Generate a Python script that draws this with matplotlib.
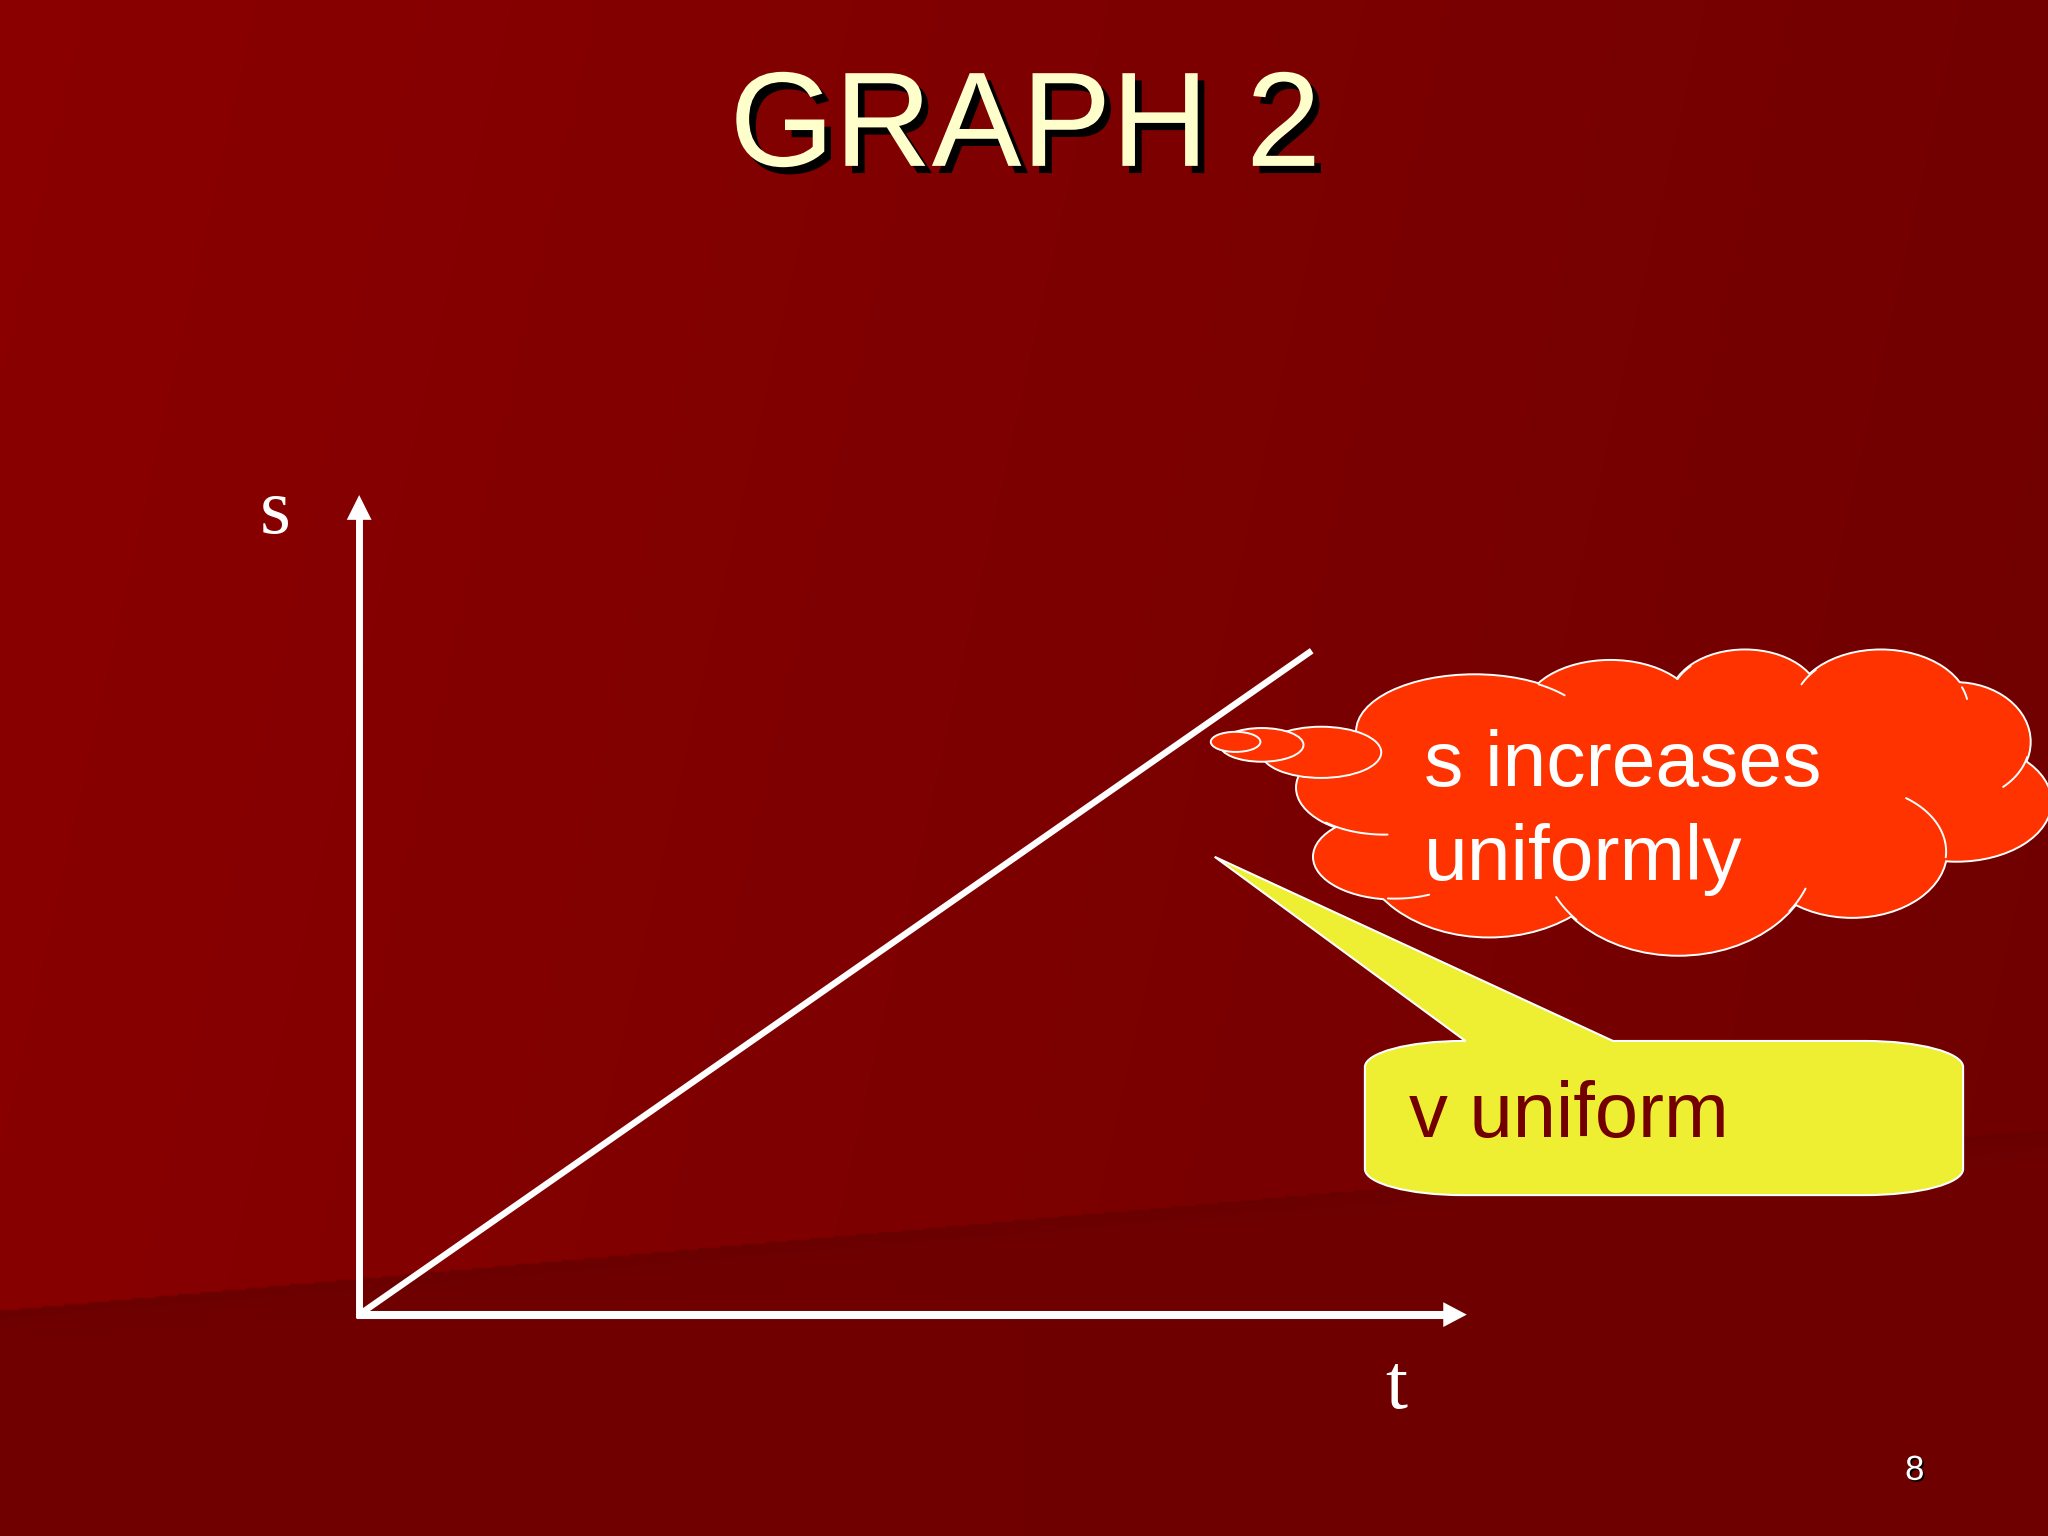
import numpy as np
import matplotlib
matplotlib.use("Agg")
import matplotlib.pyplot as plt
from matplotlib.patches import Ellipse, Polygon, PathPatch
from matplotlib.path import Path
import matplotlib.patheffects as pe

# ---------------- data ----------------
t_values = [0.0, 8.6]
s_values = [0.0, 8.1]
title = "GRAPH 2"
x_label = "t"
y_label = "s"
cloud_lines = ["s increases", "uniformly"]
callout_text = "v uniform"
slide_number = "8"

# ---------------- layout (slide units: 1568 x 1176) ----------------
W, H = 1568, 1176
fig = plt.figure(figsize=(20.48, 15.36), dpi=100)
ov = fig.add_axes([0, 0, 1, 1])
ov.set_xlim(0, W)
ov.set_ylim(H, 0)
ov.axis("off")

# background: brighter red upper area, darker lower wedge
nx, ny = 1024, 768
X, Y = np.meshgrid(np.linspace(0, W, nx), np.linspace(0, H, ny))
upper = 139 - 24 * (X / W) - 4 * (Y / H)
yb = 1004 - 0.0885 * X
d = Y - yb
lower = 113 - 2 * (X / W) - 7 * np.exp(-np.clip(d, 0, None) / 12.0)
red = np.where(d < 0, upper, lower)
rgb = np.zeros((ny, nx, 3))
rgb[..., 0] = red / 255.0
ov.imshow(rgb, extent=(0, W, H, 0), aspect="auto", interpolation="bilinear", zorder=0)

# ---------------- axes arrows ----------------
ov.plot([275, 275], [1009, 396], color="white", lw=5.0, solid_capstyle="butt", zorder=3)
ov.add_patch(Polygon([(265.5, 398), (284.5, 398), (275, 379)], closed=True,
                     facecolor="white", edgecolor="none", zorder=3))
ov.plot([273, 1107], [1006.5, 1006.5], color="white", lw=5.8, solid_capstyle="butt", zorder=3)
ov.add_patch(Polygon([(1105, 997), (1105, 1016), (1123, 1006.5)], closed=True,
                     facecolor="white", edgecolor="none", zorder=3))

# ---------------- data axes with the s-t line ----------------
ax = fig.add_axes([275 / W, 1 - 1006.5 / H, (1123 - 275) / W, (1006.5 - 379) / H])
ax.set_xlim(0, 10)
ax.set_ylim(0, 10)
ax.patch.set_alpha(0)
ax.axis("off")
ax.plot(t_values, s_values, color="white", lw=4.6, solid_capstyle="butt", clip_on=False)

# ---------------- texts ----------------
ov.text(785, 127, title, ha="center", va="baseline", fontsize=97,
        family="Liberation Sans", color="#FFFFCC", zorder=5,
        path_effects=[pe.withSimplePatchShadow(offset=(4.8, -5.2), shadow_rgbFace="black", alpha=1.0)])
ov.text(210.5, 408, y_label, ha="center", va="baseline", fontsize=57,
        family="Liberation Serif", color="white", zorder=5)
ov.text(1069, 1078, x_label, ha="center", va="baseline", fontsize=57,
        family="Liberation Serif", color="white", zorder=5)
ov.text(1466, 1133, slide_number, ha="center", va="baseline", fontsize=25,
        family="Liberation Sans", color="white", zorder=5,
        path_effects=[pe.withSimplePatchShadow(offset=(1.2, -1.2), shadow_rgbFace="black", alpha=1.0)])

# ---------------- cloud ----------------
cloud_color = "#FF3300"
bumps = [
    (1129, 560, 90, 43),   # 0 upper-left
    (1233, 546, 66, 40),   # 1 top
    (1336, 536, 57, 38),   # 2 top
    (1440, 543, 67, 45),   # 3 top-right
    (1497, 568, 57, 45),   # 4 right-upper
    (1498, 614, 72, 45),   # 5 right
    (1418, 652, 72, 50),   # 6 lower-right
    (1285, 650, 105, 81),  # 7 bottom
    (1140, 645, 100, 72),  # 8 bottom-left
    (1068, 656, 62, 32),   # 9 left-lower
    (1060, 603, 67, 36),   # 10 left-middle
]
for (cx, cy, rx, ry) in bumps:
    ov.add_patch(Ellipse((cx, cy), 2 * rx, 2 * ry, facecolor=cloud_color,
                         edgecolor="white", lw=2.8, zorder=6))
for (cx, cy, rx, ry) in bumps + [(1280, 615, 200, 85)]:
    ov.add_patch(Ellipse((cx, cy), 2 * rx, 2 * ry, facecolor=cloud_color,
                         edgecolor="none", lw=0, zorder=7))

# interior arcs (continuations of the bump outlines)
hints = [(0, 40, 57), (2, 137, 155), (3, 138, 155), (3, 10, 22), (4, -50, -15),
         (6, -5, 55), (7, -36, -22), (7, -153, -138), (9, -95, -65), (10, -132, -88)]
for idx, a0, a1 in hints:
    cx, cy, rx, ry = bumps[idx]
    th = np.radians(np.linspace(a0, a1, 30))
    ov.plot(cx + rx * np.cos(th), cy - ry * np.sin(th), color="white", lw=1.4,
            solid_capstyle="round", zorder=8)

# thought bubbles
for (cx, cy, rx, ry) in [(1011.5, 576, 46, 19.6), (966, 570.3, 32, 12.9), (946, 568, 19, 7.7)]:
    ov.add_patch(Ellipse((cx, cy), 2 * rx, 2 * ry, facecolor=cloud_color,
                         edgecolor="white", lw=1.4, zorder=8))

ov.text(1090.5, 601.8, cloud_lines[0], ha="left", va="baseline", fontsize=56.5,
        family="Liberation Sans", color="white", zorder=9)
ov.text(1090.5, 674, cloud_lines[1], ha="left", va="baseline", fontsize=56.5,
        family="Liberation Sans", color="white", zorder=9)

# ---------------- yellow callout ----------------
L, R, T, B = 1045, 1503, 797, 915
rx, ry = 75, 20
k = 0.552
verts = [
    (L + rx, T),
    (1122, T), (930, 656), (1235, T),
    (R - rx, T),
    (R - rx + k * rx, T), (R, T + ry - k * ry), (R, T + ry),
    (R, B - ry),
    (R, B - ry + k * ry), (R - rx + k * rx, B), (R - rx, B),
    (L + rx, B),
    (L + rx - k * rx, B), (L, B - ry + k * ry), (L, B - ry),
    (L, T + ry),
    (L, T + ry - k * ry), (L + rx - k * rx, T), (L + rx, T),
    (L + rx, T),
]
codes = ([Path.MOVETO] + [Path.LINETO] * 4 + [Path.CURVE4] * 3 + [Path.LINETO]
         + [Path.CURVE4] * 3 + [Path.LINETO] + [Path.CURVE4] * 3 + [Path.LINETO]
         + [Path.CURVE4] * 3 + [Path.CLOSEPOLY])
ov.add_patch(PathPatch(Path(verts, codes), facecolor="#EEEE33", edgecolor="white",
                       lw=1.5, zorder=6))
ov.text(1079, 870.6, callout_text, ha="left", va="baseline", fontsize=56,
        family="Liberation Sans", color="#720000", zorder=9)

fig.savefig("out.png", dpi=100)
